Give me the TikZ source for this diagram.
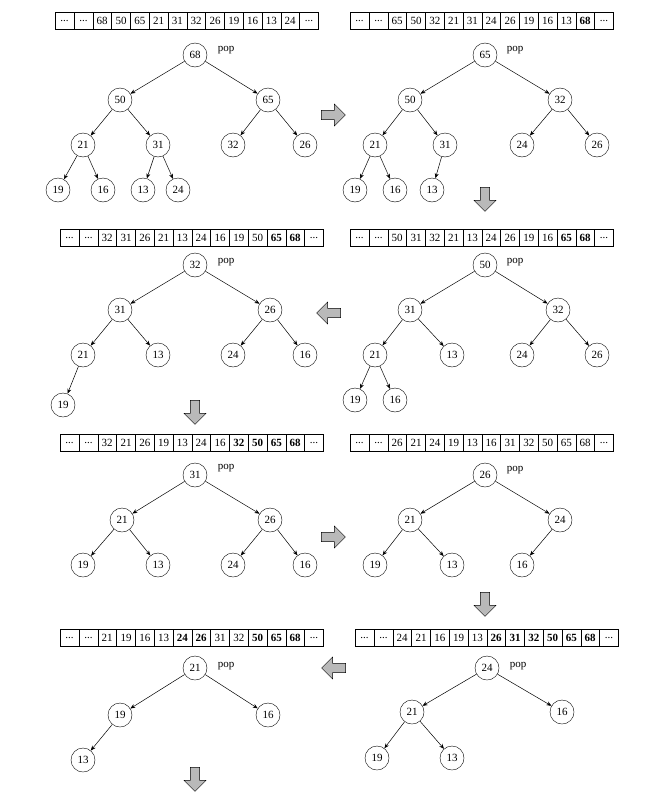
\documentclass[tikz,border=0pt]{standalone}
\usepackage{fontspec}
\setmainfont{Liberation Serif}
\usetikzlibrary{shapes.arrows,arrows.meta}
\newcommand{\dd}{...}
\tikzset{
 tn/.style={circle,draw,inner sep=0pt,minimum size=24pt,font=\fontsize{11}{11}\selectfont},
 edge/.style={-{Stealth[length=5pt,width=4pt]},line width=0.5pt},
 cell/.style={draw,minimum width=18.8pt,minimum height=17pt,inner sep=0pt,font=\fontsize{11}{11}\selectfont,anchor=west},
 poplbl/.style={font=\fontsize{11}{11}\selectfont},
 bigarr/.style={single arrow,draw,fill=gray!55,minimum width=22pt,single arrow head extend=3pt,minimum height=24pt,inner sep=2pt}
}
\newcommand{\arr}[4]{% name, x, y, list
 \foreach \v [count=\i] in {#4} {\node[cell] (#1c\i) at ({#2+(\i-1)*18.8},#3) {\v};}}
\begin{document}
\begin{tikzpicture}[x=1pt,y=-1pt]
\useasboundingbox (0,0) rectangle (670,795);
% panel 1
\arr{a}{55}{21}{\dd,\dd,68,50,65,21,31,32,26,19,16,13,24,\dd}
\node[tn] (a1) at (195,55) {68}; \node[poplbl] (ap) at (226,50) {pop};
\node[tn] (a2) at (120,100) {50}; \node[tn] (a3) at (268,100) {65};
\node[tn] (a4) at (83,145) {21}; \node[tn] (a5) at (158,145) {31};
\node[tn] (a6) at (233,145) {32}; \node[tn] (a7) at (305,145) {26};
\node[tn] (a8) at (58,190) {19}; \node[tn] (a9) at (103,190) {16};
\node[tn] (a10) at (143,190) {13}; \node[tn] (a11) at (178,190) {24};
\foreach \p/\c in {a1/a2,a1/a3,a2/a4,a2/a5,a3/a6,a3/a7,a4/a8,a4/a9,a5/a10,a5/a11} \draw[edge] (\p)--(\c);
% panel 2
\arr{b}{350}{21}{\dd,\dd,65,50,32,21,31,24,26,19,16,13,\textbf{68},\dd}
\node[tn] (b1) at (485,55) {65}; \node[poplbl] (bp) at (515,50) {pop};
\node[tn] (b2) at (410,100) {50}; \node[tn] (b3) at (560,100) {32};
\node[tn] (b4) at (375,145) {21}; \node[tn] (b5) at (445,145) {31};
\node[tn] (b6) at (522,145) {24}; \node[tn] (b7) at (597,145) {26};
\node[tn] (b8) at (355,190) {19}; \node[tn] (b9) at (395,190) {16};
\node[tn] (b10) at (432,190) {13};
\foreach \p/\c in {b1/b2,b1/b3,b2/b4,b2/b5,b3/b6,b3/b7,b4/b8,b4/b9,b5/b10} \draw[edge] (\p)--(\c);
\node[bigarr] (r1) at (331,115) {};
\node[bigarr,rotate=-90] (d1) at (485,197) {};
% panel 3
\arr{c}{60}{238}{\dd,\dd,32,31,26,21,13,24,16,19,50,\textbf{65},\textbf{68},\dd}
\node[tn] (c1) at (195,265) {32}; \node[poplbl] (cp) at (226,262) {pop};
\node[tn] (c2) at (120,310) {31}; \node[tn] (c3) at (270,310) {26};
\node[tn] (c4) at (83,355) {21}; \node[tn] (c5) at (158,355) {13};
\node[tn] (c6) at (233,355) {24}; \node[tn] (c7) at (305,355) {16};
\node[tn] (c8) at (63,405) {19};
\foreach \p/\c in {c1/c2,c1/c3,c2/c4,c2/c5,c3/c6,c3/c7,c4/c8} \draw[edge] (\p)--(\c);
\node[bigarr,rotate=180] (l1) at (331,313) {};
\node[bigarr,rotate=-90] (d2) at (195,410) {};
% panel 4
\arr{d}{350}{238}{\dd,\dd,50,31,32,21,13,24,26,19,16,\textbf{65},\textbf{68},\dd}
\node[tn] (d1n) at (485,265) {50}; \node[poplbl] (dp) at (515,262) {pop};
\node[tn] (d2n) at (410,310) {31}; \node[tn] (d3n) at (558,310) {32};
\node[tn] (d4n) at (375,355) {21}; \node[tn] (d5n) at (452,355) {13};
\node[tn] (d6n) at (522,355) {24}; \node[tn] (d7n) at (597,355) {26};
\node[tn] (d8n) at (355,400) {19}; \node[tn] (d9n) at (395,400) {16};
\foreach \p/\c in {d1n/d2n,d1n/d3n,d2n/d4n,d2n/d5n,d3n/d6n,d3n/d7n,d4n/d8n,d4n/d9n} \draw[edge] (\p)--(\c);
% panel 5
\arr{e}{60}{443}{\dd,\dd,32,21,26,19,13,24,16,\textbf{32},\textbf{50},\textbf{65},\textbf{68},\dd}
\node[tn] (e1) at (195,475) {31}; \node[poplbl] (ep) at (226,468) {pop};
\node[tn] (e2) at (122,520) {21}; \node[tn] (e3) at (270,520) {26};
\node[tn] (e4) at (83,565) {19}; \node[tn] (e5) at (158,565) {13};
\node[tn] (e6) at (233,565) {24}; \node[tn] (e7) at (305,565) {16};
\foreach \p/\c in {e1/e2,e1/e3,e2/e4,e2/e5,e3/e6,e3/e7} \draw[edge] (\p)--(\c);
\node[bigarr] (r2) at (331,537) {};
% panel 6
\arr{f}{350}{443}{\dd,\dd,26,21,24,19,13,16,31,32,50,65,68,\dd}
\node[tn] (f1) at (485,475) {26}; \node[poplbl] (fp) at (515,470) {pop};
\node[tn] (f2) at (410,520) {21}; \node[tn] (f3) at (560,520) {24};
\node[tn] (f4) at (375,565) {19}; \node[tn] (f5) at (452,565) {13};
\node[tn] (f6) at (522,565) {16};
\foreach \p/\c in {f1/f2,f1/f3,f2/f4,f2/f5,f3/f6} \draw[edge] (\p)--(\c);
\node[bigarr,rotate=-90] (d3) at (485,602) {};
% panel 7
\arr{g}{60}{638}{\dd,\dd,21,19,16,13,\textbf{24},\textbf{26},31,32,\textbf{50},\textbf{65},\textbf{68},\dd}
\node[tn] (g1) at (195,668) {21}; \node[poplbl] (gp) at (226,666) {pop};
\node[tn] (g2) at (120,715) {19}; \node[tn] (g3) at (268,715) {16};
\node[tn] (g4) at (83,760) {13};
\foreach \p/\c in {g1/g2,g1/g3,g2/g4} \draw[edge] (\p)--(\c);
\node[bigarr,rotate=180] (l2) at (336,668) {};
\node[bigarr,rotate=-90] (d4) at (195,777) {};
% panel 8
\arr{h}{355}{638}{\dd,\dd,24,21,16,19,13,\textbf{26},\textbf{31},\textbf{32},\textbf{50},\textbf{65},\textbf{68},\dd}
\node[tn] (h1) at (487,668) {24}; \node[poplbl] (hp) at (518,666) {pop};
\node[tn] (h2) at (412,712) {21}; \node[tn] (h3) at (562,712) {16};
\node[tn] (h4) at (377,758) {19}; \node[tn] (h5) at (452,758) {13};
\foreach \p/\c in {h1/h2,h1/h3,h2/h4,h2/h5} \draw[edge] (\p)--(\c);
\end{tikzpicture}
\end{document}
